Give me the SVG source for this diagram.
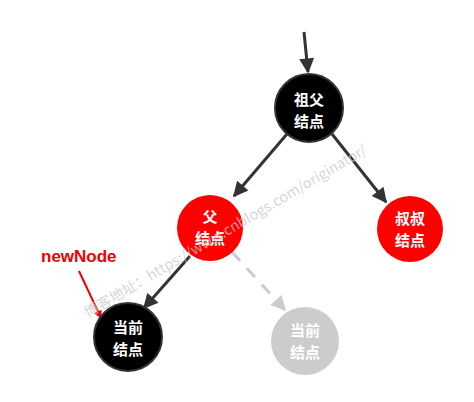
<svg xmlns="http://www.w3.org/2000/svg" width="474" height="402" viewBox="0 0 474 402">
<style>
.lbl{font-family:"Noto Sans CJK SC","Liberation Sans",sans-serif;font-weight:bold;font-size:15px;fill:#fff;text-anchor:middle}
.edge{stroke:#333;stroke-width:3;fill:none}
</style>
<defs>
<marker id="ah" viewBox="0 0 10 10" refX="9" refY="5" markerWidth="5.5" markerHeight="5" orient="auto" markerUnits="strokeWidth"><path d="M0,0 L10,5 L0,10 z" fill="#333"/></marker>
<marker id="ahg" viewBox="0 0 10 10" refX="9" refY="5" markerWidth="5.5" markerHeight="5" orient="auto" markerUnits="strokeWidth"><path d="M0,0 L10,5 L0,10 z" fill="#ccc"/></marker>
<marker id="ahr" viewBox="0 0 10 10" refX="9" refY="5" markerWidth="5" markerHeight="4" orient="auto" markerUnits="strokeWidth"><path d="M0,0 L10,5 L0,10 z" fill="#e00"/></marker>
</defs>
<rect width="474" height="402" fill="#fff"/>
<g id="connectors">
<line class="edge" x1="304" y1="32" x2="308" y2="72" marker-end="url(#ah)"/>
<line class="edge" x1="287" y1="134" x2="234" y2="196" marker-end="url(#ah)"/>
<line class="edge" x1="332" y1="134" x2="386" y2="202" marker-end="url(#ah)"/>
<line class="edge" x1="190" y1="256" x2="144" y2="308" marker-end="url(#ah)"/>
<line x1="232" y1="252" x2="285" y2="310" stroke="#ccc" stroke-width="3" stroke-dasharray="12,10" marker-end="url(#ahg)"/>
<line x1="79" y1="271" x2="101" y2="318" stroke="#e00" stroke-width="2" marker-end="url(#ahr)"/>
</g>
<g id="grandparent">
<circle cx="309" cy="108" r="34" fill="#000" stroke="#333" stroke-width="2"/>
<text class="lbl" x="309" y="105">祖父</text>
<text class="lbl" x="309" y="127">结点</text>
</g>
<g id="parent">
<circle cx="210" cy="228" r="33" fill="#f00"/>
<text class="lbl" x="210" y="222">父</text>
<text class="lbl" x="210" y="244">结点</text>
</g>
<g id="uncle">
<circle cx="410" cy="229" r="33" fill="#f00"/>
<text class="lbl" x="410" y="224">叔叔</text>
<text class="lbl" x="410" y="246">结点</text>
</g>
<g id="current">
<circle cx="128" cy="337" r="34" fill="#000" stroke="#333" stroke-width="2"/>
<text class="lbl" x="128" y="333">当前</text>
<text class="lbl" x="128" y="355">结点</text>
</g>
<g id="ghost">
<circle cx="305" cy="341" r="34" fill="#ccc"/>
<text class="lbl" x="305" y="336">当前</text>
<text class="lbl" x="305" y="358">结点</text>
</g>
<g id="newNode">
<text x="41" y="262" font-family="Liberation Sans,Arial,sans-serif" font-weight="bold" font-size="17" fill="#e00">newNode</text>
</g>
<text x="88" y="318" transform="rotate(-30.5 88 318)" font-family="Noto Sans CJK SC,Liberation Sans,sans-serif" font-size="14.5" fill="#c8c8c8" fill-opacity="0.75">博客地址：https://www.cnblogs.com/originator/</text>
</svg>
